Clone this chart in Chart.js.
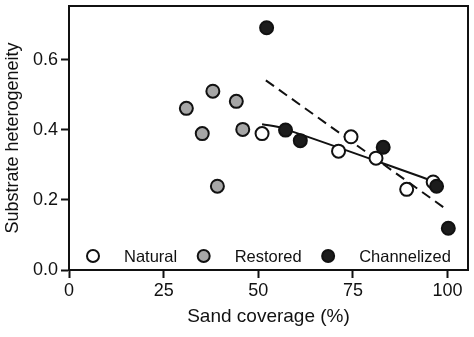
<!DOCTYPE html>
<html>
<head>
<meta charset="utf-8">
<script src="https://cdn.jsdelivr.net/npm/chart.js@4.4.0/dist/chart.umd.min.js"></script>
<style>
  html, body { margin: 0; padding: 0; background: #fff; }
  #wrap { width: 474px; height: 337px; }
</style>
</head>
<body>
<div id="wrap"><canvas id="sandChart"></canvas></div>
<script>
// values
const naturalX = [51.0, 71.2, 74.5, 81.1, 89.2, 96.2];
const naturalY = [0.389, 0.339, 0.380, 0.319, 0.230, 0.251];
const restoredX = [31.0, 35.2, 38.0, 39.2, 44.2, 45.9];
const restoredY = [0.461, 0.389, 0.510, 0.239, 0.481, 0.401];
const channelX = [52.2, 57.2, 61.1, 83.0, 97.1, 100.2];
const channelY = [0.691, 0.399, 0.369, 0.350, 0.239, 0.119];

// fitted lines
const solidX = [51.0, 56.5, 96.6];
const solidY = [0.416, 0.404, 0.252];
const dashX = [52.0, 99.7];
const dashY = [0.541, 0.173];

const xTicks = [0, 25, 50, 75, 100];
const yTicks = [0.0, 0.2, 0.4, 0.6];
const legendOrder = ["Natural", "Restored", "Channelized"];

const toPts = (xs, ys) => xs.map((x, i) => ({ x: x, y: ys[i] }));

const FONT = "'Liberation Sans', Arial, Helvetica, sans-serif";

// box round the plot + legend inside the plot
const framePlugin = {
    id: "frame",
    afterDatasetsDraw(chart) {
        const ctx = chart.ctx;
        const a = chart.chartArea;
        ctx.save();
        ctx.strokeStyle = "#111";
        ctx.lineWidth = 2;
        ctx.beginPath();
        ctx.moveTo(a.left, a.top);
        ctx.lineTo(a.right, a.top);
        ctx.lineTo(a.right, a.bottom);
        ctx.stroke();

        // legend
        ctx.font = "16.5px " + FONT;
        ctx.textBaseline = "middle";
        ctx.textAlign = "left";
        let x = a.left + 24;
        const y = a.bottom - 14;
        legendOrder.forEach(name => {
            const d = chart.data.datasets.find(ds => ds.label === name);
            ctx.beginPath();
            ctx.arc(x, y, 6, 0, Math.PI * 2);
            ctx.fillStyle = d.backgroundColor;
            ctx.fill();
            ctx.lineWidth = 2;
            ctx.strokeStyle = "#111";
            ctx.stroke();
            ctx.fillStyle = "#111";
            ctx.fillText(d.label, x + 31, y + 1);
            x += 31 + ctx.measureText(d.label).width + 26.5;
        });
        ctx.restore();
    }
};

const pointStyle = (fill) => ({
    showLine: false,
    backgroundColor: fill,
    borderColor: "#111",
    borderWidth: 2,
    pointRadius: 6.5,
    pointHoverRadius: 6.5
});

new Chart(document.getElementById("sandChart"), {
    type: "scatter",
    data: {
        datasets: [
            { label: "Channelized", data: toPts(channelX, channelY), order: 1, ...pointStyle("#1c1c1c") },
            { label: "Restored", data: toPts(restoredX, restoredY), order: 2, ...pointStyle("#a6a6a6") },
            { label: "Natural", data: toPts(naturalX, naturalY), order: 3, ...pointStyle("#ffffff") },
            {
                label: "fit", data: toPts(solidX, solidY), type: "line", order: 4,
                showLine: true, borderColor: "#111", borderWidth: 2, pointRadius: 0, tension: 0.3, fill: false
            },
            {
                label: "fit2", data: toPts(dashX, dashY), type: "line", order: 5,
                showLine: true, borderColor: "#111", borderWidth: 2, borderDash: [10, 6], pointRadius: 0, fill: false
            }
        ]
    },
    options: {
        responsive: true,
        maintainAspectRatio: false,
        animation: false,
        layout: { autoPadding: false, padding: { top: 6, right: 6, left: 0, bottom: 0 } },
        plugins: {
            legend: { display: false },
            tooltip: { enabled: false }
        },
        scales: {
            x: {
                type: "linear",
                min: 0,
                max: 105.4,
                afterFit(scale) {
                    scale.height = 67;
                    scale.paddingLeft = 0;
                    scale.paddingRight = 0;
                },
                afterBuildTicks(scale) { scale.ticks = xTicks.map(v => ({ value: v })); },
                grid: { drawOnChartArea: false, drawTicks: true, tickLength: 8, tickWidth: 2, color: "#111" },
                border: { display: true, color: "#111", width: 2 },
                ticks: { color: "#111", padding: 2, font: { family: FONT, size: 18 }, maxRotation: 0 },
                title: {
                    display: true, text: "Sand coverage (%)", color: "#111",
                    font: { family: FONT, size: 19 }, padding: { top: 0, bottom: 9 }
                }
            },
            y: {
                min: 0,
                max: 0.753,
                afterFit(scale) {
                    scale.width = 69;
                    scale.paddingTop = 0;
                    scale.paddingBottom = 0;
                },
                afterBuildTicks(scale) { scale.ticks = yTicks.map(v => ({ value: v })); },
                grid: { drawOnChartArea: false, drawTicks: true, tickLength: 8, tickWidth: 2, color: "#111" },
                border: { display: true, color: "#111", width: 2 },
                ticks: {
                    color: "#111", padding: 3, font: { family: FONT, size: 18 },
                    callback: v => Number(v).toFixed(1)
                },
                title: {
                    display: true, text: "Substrate heterogeneity", color: "#111",
                    font: { family: FONT, size: 18 }, padding: { top: 2, bottom: 0 }
                }
            }
        }
    },
    plugins: [framePlugin]
});
</script>
</body>
</html>
